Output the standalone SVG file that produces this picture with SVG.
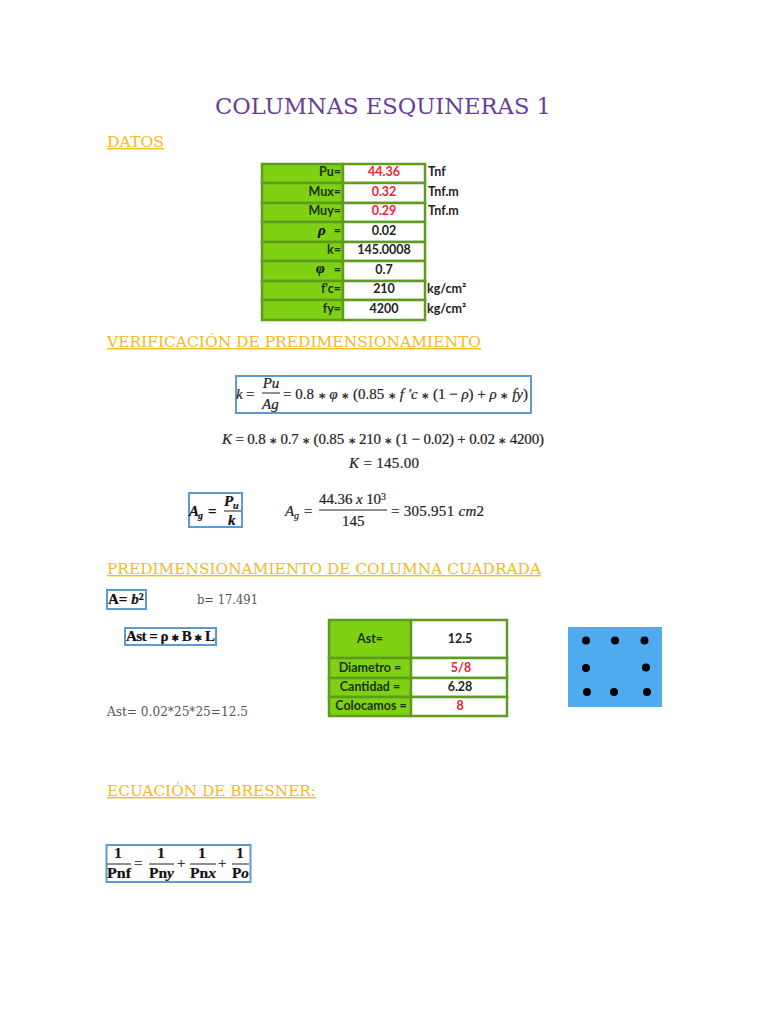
<svg xmlns="http://www.w3.org/2000/svg" width="768" height="1024" viewBox="0 0 768 1024">
<style>
.h{font-family:"DejaVu Serif","Liberation Serif",serif;font-size:14px;fill:#f5b922;text-decoration:underline}
.t{font-family:"Lato","Liberation Sans",sans-serif;font-size:12.5px;font-weight:700;fill:#222}
.l{text-anchor:end;fill:#1c3300}
.c{text-anchor:middle}
.gt{fill:#1c3300}
.r{fill:#ee2233}
.m{font-family:"Liberation Serif",serif;font-size:15px;fill:#222;stroke:#222;stroke-width:.2}
.mb{font-family:"Liberation Serif",serif;font-size:15px;fill:#111;font-weight:bold;stroke:#111;stroke-width:.2}
.i{font-style:italic}
.s{font-size:10px}
.p{font-family:"DejaVu Serif","Liberation Serif",serif;font-size:12.5px;fill:#555}
.g{fill:#7fd114;stroke:#5e9c1f;stroke-width:2.500}
.w{fill:#fff;stroke:#5e9c1f;stroke-width:2.500}
.b{fill:#fff;stroke:#5b9bd5;stroke-width:2}
.fr{stroke:#222;stroke-width:1}
</style>
<rect width="768" height="1024" fill="#fff"/>
<g id="headings">
<text x="215" y="114" font-family="DejaVu Serif,Liberation Serif,serif" font-size="22" fill="#6a3d9a" textLength="336" lengthAdjust="spacingAndGlyphs">COLUMNAS ESQUINERAS 1</text>
<text class="h" x="107" y="147" textLength="57" lengthAdjust="spacingAndGlyphs">DATOS</text>
<text class="h" x="107" y="347" textLength="374" lengthAdjust="spacingAndGlyphs">VERIFICACIÓN DE PREDIMENSIONAMIENTO</text>
<text class="h" x="107" y="574" textLength="434" lengthAdjust="spacingAndGlyphs">PREDIMENSIONAMIENTO DE COLUMNA CUADRADA</text>
<text class="h" x="107" y="796" textLength="209" lengthAdjust="spacingAndGlyphs">ECUACIÓN DE BRESNER:</text>
</g>
<g id="table-datos">
<rect class="g" x="262" y="164" width="81" height="19"/><rect class="w" x="343" y="164" width="82" height="19"/>
<rect class="g" x="262" y="183" width="81" height="20"/><rect class="w" x="343" y="183" width="82" height="20"/>
<rect class="g" x="262" y="203" width="81" height="19"/><rect class="w" x="343" y="203" width="82" height="19"/>
<rect class="g" x="262" y="222" width="81" height="20"/><rect class="w" x="343" y="222" width="82" height="20"/>
<rect class="g" x="262" y="242" width="81" height="19"/><rect class="w" x="343" y="242" width="82" height="19"/>
<rect class="g" x="262" y="261" width="81" height="20"/><rect class="w" x="343" y="261" width="82" height="20"/>
<rect class="g" x="262" y="281" width="81" height="19"/><rect class="w" x="343" y="281" width="82" height="19"/>
<rect class="g" x="262" y="300" width="81" height="20"/><rect class="w" x="343" y="300" width="82" height="20"/>
<text class="t l" x="341" y="176">Pu=</text><text class="t c r" x="384" y="176">44.36</text><text class="t" x="428" y="176">Tnf</text>
<text class="t l" x="341" y="196">Mux=</text><text class="t c r" x="384" y="196">0.32</text><text class="t" x="428" y="196">Tnf.m</text>
<text class="t l" x="341" y="215">Muy=</text><text class="t c r" x="384" y="215">0.29</text><text class="t" x="428" y="215">Tnf.m</text>
<text class="t l" x="341" y="235">=</text><text class="mb i" x="318" y="235">ρ</text><text class="t c" x="384" y="235">0.02</text>
<text class="t l" x="341" y="254">k=</text><text class="t c" x="384" y="254">145.0008</text>
<text class="t l" x="341" y="274">=</text><text class="mb i" x="316" y="273">φ</text><text class="t c" x="384" y="274">0.7</text>
<text class="t l" x="341" y="293">f'c=</text><text class="t c" x="384" y="293">210</text><text class="t" x="427" y="293">kg/cm²</text>
<text class="t l" x="341" y="313">fy=</text><text class="t c" x="384" y="313">4200</text><text class="t" x="427" y="313">kg/cm²</text>
</g>
<g id="formula-k">
<rect class="b" x="236" y="376" width="295" height="37"/>
<text class="m i" x="236" y="399">k</text><text class="m" x="246" y="399">=</text>
<text class="m i c" x="271" y="388">Pu</text><line class="fr" x1="262" y1="393" x2="280" y2="393"/><text class="m i" x="262" y="409">Ag</text>
<text class="m" x="283" y="399" textLength="245" lengthAdjust="spacing">= 0.8 <tspan class="s">∗</tspan> <tspan class="i">φ</tspan> <tspan class="s">∗</tspan> (0.85 <tspan class="s">∗</tspan> <tspan class="i">f ′c</tspan> <tspan class="s">∗</tspan> (1 − <tspan class="i">ρ</tspan>) + <tspan class="i">ρ</tspan> <tspan class="s">∗</tspan> <tspan class="i">fy</tspan>)</text>
</g>
<g id="formula-K">
<text class="m" x="222" y="444" textLength="322" lengthAdjust="spacing"><tspan class="i">K</tspan> = 0.8 <tspan class="s">∗</tspan> 0.7 <tspan class="s">∗</tspan> (0.85 <tspan class="s">∗</tspan> 210 <tspan class="s">∗</tspan> (1 − 0.02) + 0.02 <tspan class="s">∗</tspan> 4200)</text>
<text class="m" x="349" y="468" textLength="70" lengthAdjust="spacing"><tspan class="i">K</tspan> = 145.00</text>
</g>
<g id="formula-ag">
<rect class="b" x="189" y="493" width="53" height="34"/>
<text class="mb i" x="189" y="516">A</text><text class="mb i s" x="198" y="519">g</text><text class="mb" x="208" y="516">=</text>
<text class="mb i" x="224" y="506">P</text><text class="mb i s" x="233" y="509">u</text><line class="fr" x1="224" y1="511" x2="241" y2="511"/><text class="mb i" x="228" y="525">k</text>
<text class="m i" x="285" y="516">A</text><text class="m i s" x="294" y="519">g</text><text class="m" x="304" y="516">=</text>
<text class="m" x="319" y="504" textLength="67" lengthAdjust="spacing">44.36 <tspan class="i">x</tspan> 10<tspan dy="-4" class="s">3</tspan></text><line class="fr" x1="319" y1="510" x2="387" y2="510"/><text class="m" x="342" y="526">145</text>
<text class="m" x="391" y="516" textLength="93" lengthAdjust="spacing">= 305.951 <tspan class="i">cm</tspan>2</text>
</g>
<g id="formula-a">
<rect class="b" x="107" y="590" width="39" height="19"/>
<text class="mb" x="108" y="604">A= <tspan class="i">b</tspan><tspan dy="-4" class="s">2</tspan></text>
<text class="p" x="197" y="604" textLength="61" lengthAdjust="spacingAndGlyphs">b= 17.491</text>
</g>
<g id="formula-ast">
<rect class="b" x="125" y="628" width="91" height="17"/>
<text class="mb" x="126" y="641" textLength="89" lengthAdjust="spacing">Ast = ρ <tspan class="s">∗</tspan> B <tspan class="s">∗</tspan> L</text>
<text class="p" x="107" y="716" textLength="141" lengthAdjust="spacingAndGlyphs">Ast= 0.02*25*25=12.5</text>
</g>
<g id="table-acero">
<rect class="g" x="329" y="620" width="82" height="38"/><rect class="w" x="411" y="620" width="96" height="38"/>
<rect class="g" x="329" y="658" width="82" height="20"/><rect class="w" x="411" y="658" width="96" height="20"/>
<rect class="g" x="329" y="678" width="82" height="19"/><rect class="w" x="411" y="678" width="96" height="19"/>
<rect class="g" x="329" y="697" width="82" height="19"/><rect class="w" x="411" y="697" width="96" height="19"/>
<text class="t c gt" x="370" y="643">Ast=</text><text class="t c" x="460" y="643">12.5</text>
<text class="t c gt" x="370" y="672">Diametro =</text><text class="t c r" x="461" y="672">5/8</text>
<text class="t c gt" x="370" y="691">Cantidad =</text><text class="t c" x="460" y="691">6.28</text>
<text class="t c gt" x="371" y="710">Colocamos =</text><text class="t c r" x="460" y="710">8</text>
</g>
<g id="seccion-columna">
<rect x="568" y="627" width="94" height="80" fill="#4fabf0"/>
<g fill="#000">
<circle cx="586" cy="640.500" r="4"/><circle cx="615" cy="640.500" r="4"/><circle cx="644.500" cy="640.500" r="4"/>
<circle cx="586" cy="668" r="4"/><circle cx="646" cy="667.500" r="4"/>
<circle cx="587" cy="692" r="4"/><circle cx="614" cy="692" r="4"/><circle cx="647" cy="692" r="4"/>
</g>
</g>
<g id="formula-bresner">
<rect class="b" x="106.500" y="845" width="144" height="37"/>
<text class="mb c" x="118" y="858">1</text><line class="fr" x1="107" y1="864" x2="131" y2="864"/><text class="mb" x="107" y="878" textLength="24" lengthAdjust="spacingAndGlyphs">Pnf</text>
<text class="m" x="134" y="868">=</text>
<text class="mb c" x="161" y="858">1</text><line class="fr" x1="149" y1="864" x2="174" y2="864"/><text class="mb" x="149" y="878" textLength="25" lengthAdjust="spacingAndGlyphs">Pn<tspan class="i">y</tspan></text>
<text class="m" x="177" y="868">+</text>
<text class="mb c" x="202" y="858">1</text><line class="fr" x1="190" y1="864" x2="216" y2="864"/><text class="mb" x="190" y="878" textLength="26" lengthAdjust="spacingAndGlyphs">Pn<tspan class="i">x</tspan></text>
<text class="m" x="218" y="868">+</text>
<text class="mb c" x="240" y="858">1</text><line class="fr" x1="232" y1="864" x2="249" y2="864"/><text class="mb" x="232" y="878" textLength="17" lengthAdjust="spacingAndGlyphs">P<tspan class="i">o</tspan></text>
</g>
</svg>
